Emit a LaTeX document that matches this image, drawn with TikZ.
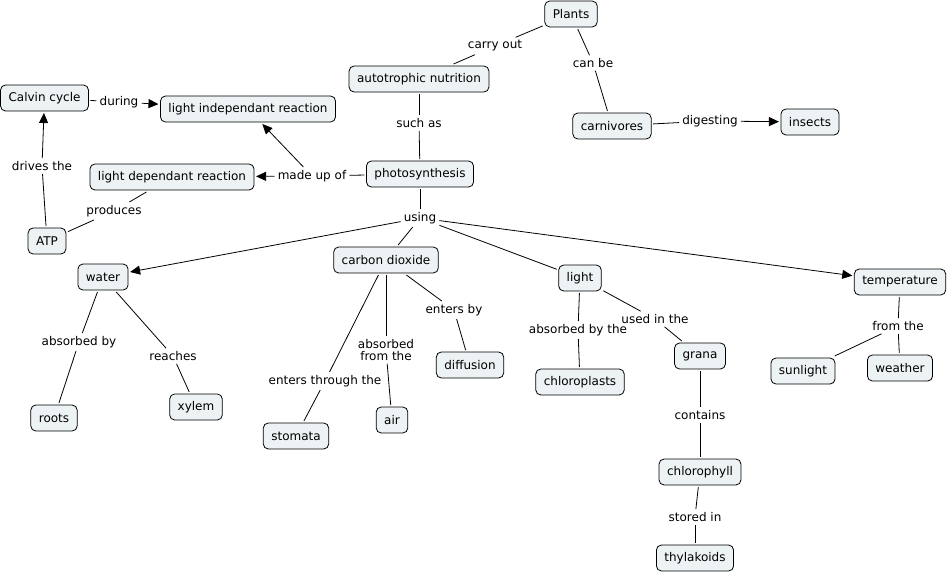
\documentclass[tikz,border=0pt]{standalone}
\usepackage{fontspec}
\setmainfont{DejaVu Sans}
\usetikzlibrary{arrows.meta}
\definecolor{boxfill}{RGB}{237,242,244}
\begin{document}
\begin{tikzpicture}[x=1pt,y=-1pt,
  box/.style={draw, rounded corners=5pt, fill=boxfill, minimum height=26pt, inner xsep=8pt, font=\fontsize{12}{13.5}\selectfont, line width=0.8pt, outer sep=2pt},
  lbl/.style={inner sep=3pt, font=\fontsize{12}{13.5}\selectfont, align=center},
  con/.style={line width=0.8pt},
  arr/.style={line width=0.8pt, -{Triangle[length=10pt,width=9pt]}}]
\useasboundingbox (0,0) rectangle (948,574);
% concepts
\node[box] (plants) at (571,14) {Plants};
\node[box] (auto) at (419,79) {autotrophic nutrition};
\node[box] (carn) at (612,126) {carnivores};
\node[box] (insects) at (810,122) {insects};
\node[box] (calvin) at (44.5,98) {Calvin cycle};
\node[box] (lir) at (248,109) {light independant reaction};
\node[box] (photo) at (420,174) {photosynthesis};
\node[box] (ldr) at (172,177) {light dependant reaction};
\node[box] (atp) at (47,241) {ATP};
\node[box] (water) at (103,277) {water};
\node[box] (co2) at (386,260) {carbon dioxide};
\node[box] (light) at (580,278) {light};
\node[box] (temp) at (900,282) {temperature};
\node[box] (roots) at (54,418) {roots};
\node[box] (xylem) at (196,407) {xylem};
\node[box] (diff) at (470,365) {diffusion};
\node[box] (stom) at (296,436) {stomata};
\node[box] (air) at (392,420) {air};
\node[box] (chloro) at (580,382) {chloroplasts};
\node[box] (grana) at (700,356) {grana};
\node[box] (chl) at (700,472) {chlorophyll};
\node[box] (thyl) at (695,558) {thylakoids};
\node[box] (sun) at (803,371) {sunlight};
\node[box] (weather) at (900,368) {weather};
% linking phrases
\node[lbl] (lcarry) at (495,46) {carry out};
\node[lbl] (lcanbe) at (593,63) {can be};
\node[lbl] (ldig) at (710,121) {digesting};
\node[lbl] (lduring) at (119,102) {during};
\node[lbl] (lsuch) at (419,123) {such as};
\node[lbl] (lmade) at (312,176) {made up of};
\node[lbl] (ldrives) at (42,166) {drives the};
\node[lbl] (lprod) at (114,211) {produces};
\node[lbl] (lusing) at (420,218) {using};
\node[lbl] (labsby) at (79,342) {absorbed by};
\node[lbl] (lreach) at (173,356) {reaches};
\node[lbl] (lenthr) at (325,381) {enters through the};
\node[lbl] (labsfrom) at (386,350) {absorbed\\[-2pt]from the};
\node[lbl] (lentby) at (454,310) {enters by};
\node[lbl] (labsthe) at (578,330) {absorbed by the};
\node[lbl] (lused) at (655,319) {used in the};
\node[lbl] (lcont) at (700,415) {contains};
\node[lbl] (lstored) at (695,517) {stored in};
\node[lbl] (lfrom) at (898,326) {from the};
% connectors
\draw[con] (auto) -- (lcarry); \draw[con] (lcarry) -- (plants);
\draw[con] (plants) -- (lcanbe); \draw[con] (lcanbe) -- (carn);
\draw[con] (carn) -- (ldig); \draw[arr] (ldig) -- (insects);
\draw[con] (calvin) -- (lduring); \draw[arr] (lduring) -- (lir);
\draw[con] (auto) -- (lsuch); \draw[con] (lsuch) -- (photo);
\draw[con] (photo) -- (lmade); \draw[arr] (lmade) -- (ldr); \draw[arr] (lmade) -- (lir);
\draw[con] (atp) -- (ldrives); \draw[arr] (ldrives) -- (calvin);
\draw[con] (atp) -- (lprod); \draw[con] (lprod) -- (ldr);
\draw[con] (photo) -- (lusing);
\draw[arr] (lusing) -- (water); \draw[con] (lusing) -- (co2);
\draw[con] (lusing) -- (light); \draw[arr] (lusing) -- (temp);
\draw[con] (water) -- (labsby); \draw[con] (labsby) -- (roots);
\draw[con] (water) -- (lreach); \draw[con] (lreach) -- (xylem);
\draw[con] (co2) -- (lenthr); \draw[con] (lenthr) -- (stom);
\draw[con] (co2) -- (labsfrom); \draw[con] (labsfrom) -- (air);
\draw[con] (co2) -- (lentby); \draw[con] (lentby) -- (diff);
\draw[con] (light) -- (labsthe); \draw[con] (labsthe) -- (chloro);
\draw[con] (light) -- (lused); \draw[con] (lused) -- (grana);
\draw[con] (grana) -- (lcont); \draw[con] (lcont) -- (chl);
\draw[con] (chl) -- (lstored); \draw[con] (lstored) -- (thyl);
\draw[con] (temp) -- (lfrom); \draw[con] (lfrom) -- (sun); \draw[con] (lfrom) -- (weather);
\end{tikzpicture}
\end{document}
